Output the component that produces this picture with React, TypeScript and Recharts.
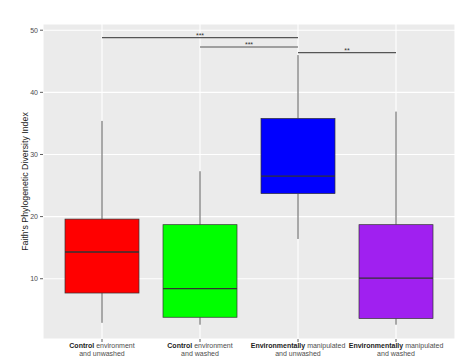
import React from "react";
import {
  ComposedChart,
  Bar,
  XAxis,
  YAxis,
  CartesianGrid,
  ReferenceLine,
} from "recharts";

// ---- data ----
const groupKeys = ["c_unw", "c_w", "e_unw", "e_w"];
const labelBold = ["Control", "Control", "Environmentally", "Environmentally"];
const labelRest = [" environment", " environment", " manipulated", " manipulated"];
const labelLine2 = ["and unwashed", "and washed", "and unwashed", "and washed"];

const whiskerLow = [2.9, 2.6, 16.4, 2.6];
const quartile1 = [7.7, 3.8, 23.7, 3.6];
const medians = [14.3, 8.4, 26.5, 10.1];
const quartile3 = [19.6, 18.7, 35.8, 18.7];
const whiskerHigh = [35.4, 27.3, 46.0, 36.9];
const fills = ["#FF0000", "#00FF00", "#0000FF", "#A020F0"];

const yTicks = [10, 20, 30, 40, 50];
const yMinorTicks = [5, 15, 25, 35, 45];
const yDomain = [0.3, 51];

const sigFrom = ["c_unw", "c_w", "e_unw"];
const sigTo = ["e_unw", "e_unw", "e_w"];
const sigY = [48.8, 47.3, 46.4];
const sigText = ["***", "***", "**"];

const yTitle = "Faith's Phylogenetic Diversity Index";

const data = groupKeys.map((key, i) => ({
  key,
  lo: whiskerLow[i],
  q1: quartile1[i],
  med: medians[i],
  q3: quartile3[i],
  hi: whiskerHigh[i],
  fill: fills[i],
}));

const BoxShape = (props: any) => {
  const { x, y, width, height, payload } = props;
  const top = Math.min(y, y + height);
  const bottom = Math.max(y, y + height);
  const span = payload.hi - payload.lo;
  const py = (v: number) => top + ((bottom - top) * (payload.hi - v)) / span;
  const cx = x + width / 2;
  const yq1 = py(payload.q1);
  const yq3 = py(payload.q3);
  const ym = py(payload.med);
  return (
    <g>
      <line x1={cx} x2={cx} y1={top} y2={yq3} stroke="#333" strokeWidth={0.8} />
      <line x1={cx} x2={cx} y1={yq1} y2={bottom} stroke="#333" strokeWidth={0.8} />
      <rect
        x={x}
        y={yq3}
        width={width}
        height={yq1 - yq3}
        fill={payload.fill}
        stroke="#333"
        strokeWidth={0.7}
      />
      <line x1={x} x2={x + width} y1={ym} y2={ym} stroke="#333" strokeWidth={1.3} />
    </g>
  );
};

const XTick = (props: any) => {
  const { x, y, payload } = props;
  const i = groupKeys.indexOf(payload.value);
  return (
    <text x={x} y={y} textAnchor="middle" fontSize={7} fill="#4D4D4D">
      <tspan x={x} dy={3.5}>
        <tspan fontWeight="bold" fill="#222">
          {labelBold[i]}
        </tspan>
        <tspan>{labelRest[i]}</tspan>
      </tspan>
      <tspan x={x} dy={8.3}>
        {labelLine2[i]}
      </tspan>
    </text>
  );
};

const minorGen = (args: any) => {
  const yAxis = args.yAxis;
  if (yAxis && typeof yAxis.scale === "function") {
    return yMinorTicks.map((v) => yAxis.scale(v));
  }
  return [];
};

export default function App() {
  return (
    <div style={{ position: "absolute", left: 0, top: 0 }}>
      <ComposedChart
        width={474}
        height={363}
        data={data}
        margin={{ top: 24, right: 19, bottom: 0, left: 7 }}
        barSize={74}
        style={{ fontFamily: "'Liberation Sans', Arial, sans-serif" }}
      >
        <CartesianGrid
          fill="#EBEBEB"
          fillOpacity={1}
          stroke="#F7F7F7"
          strokeWidth={0.6}
          vertical={false}
          horizontalCoordinatesGenerator={minorGen}
        />
        <CartesianGrid stroke="#FFFFFF" strokeWidth={1.1} />
        <XAxis
          dataKey="key"
          type="category"
          padding={{ left: 10, right: 10 }}
          axisLine={false}
          tickLine={{ stroke: "#333", strokeWidth: 0.8 }}
          tickSize={3}
          height={24}
          interval={0}
          tick={<XTick />}
        />
        <YAxis
          type="number"
          domain={yDomain}
          ticks={yTicks}
          allowDataOverflow
          axisLine={false}
          tickLine={{ stroke: "#333", strokeWidth: 0.8 }}
          tickSize={3}
          width={36}
          tick={{ fontSize: 7, fill: "#4D4D4D" }}
          label={{
            value: yTitle,
            angle: -90,
            position: "center",
            fontSize: 8.8,
            fill: "#1A1A1A",
          }}
        />
        <Bar
          dataKey={(d: any) => [d.lo, d.hi]}
          shape={<BoxShape />}
          isAnimationActive={false}
        />
        {sigFrom.map((f, i) => (
          <ReferenceLine
            key={i}
            segment={[
              { x: f, y: sigY[i] },
              { x: sigTo[i], y: sigY[i] },
            ]}
            stroke="#555"
            strokeWidth={1.2}
            label={{
              value: sigText[i],
              position: "top",
              offset: 0,
              fontSize: 7,
              fill: "#333",
            }}
          />
        ))}
      </ComposedChart>
    </div>
  );
}
